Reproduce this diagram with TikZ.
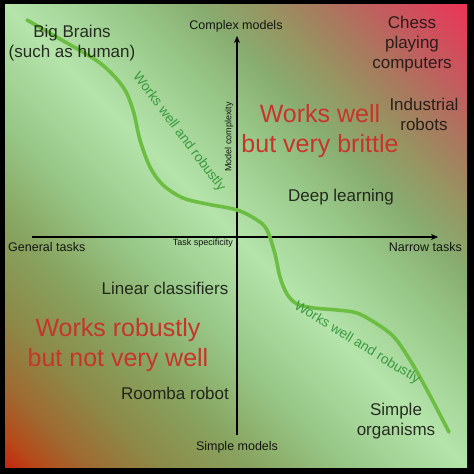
\documentclass[tikz,border=0pt]{standalone}
\usepackage{fontspec}
\setmainfont{Liberation Sans}
\usetikzlibrary{arrows.meta}
\definecolor{bA}{HTML}{C42810}
\definecolor{bB}{HTML}{B84818}
\definecolor{bC}{HTML}{A06830}
\definecolor{bD}{HTML}{8C8A48}
\definecolor{bE}{HTML}{88A460}
\definecolor{bF}{HTML}{98C888}
\definecolor{cLight}{HTML}{B4E4AA}
\definecolor{tF}{HTML}{98C888}
\definecolor{tE}{HTML}{88AC70}
\definecolor{tD}{HTML}{969662}
\definecolor{tC}{HTML}{A87A5E}
\definecolor{tB}{HTML}{C45A5E}
\definecolor{tA}{HTML}{EC3458}
\definecolor{curvec}{HTML}{6CBE42}
\definecolor{curvetext}{HTML}{3A9A40}
\definecolor{redtext}{HTML}{C8342A}
\definecolor{labeltext}{HTML}{141410}
\pgfdeclareverticalshading{bgshade}{100bp}{color(0bp)=(bA); color(14.6bp)=(bA); color(16.8bp)=(bB); color(20.5bp)=(bC); color(26.5bp)=(bD); color(33.5bp)=(bE); color(41.2bp)=(bF); color(50bp)=(cLight); color(58.8bp)=(tF); color(64.8bp)=(tE); color(69.4bp)=(tD); color(74bp)=(tC); color(79bp)=(tB); color(85.4bp)=(tA); color(100bp)=(tA)}
\tikzset{
  lbl/.style={font=\fontsize{17}{20}\selectfont, text=labeltext, text opacity=0.88, align=center, inner sep=0pt},
  bigred/.style={font=\fontsize{25}{30}\selectfont, text=redtext, align=center, inner sep=0pt},
  axlbl/.style={font=\fontsize{12.5}{15}\selectfont, text=labeltext, inner sep=0pt},
  tinylbl/.style={font=\fontsize{9}{11}\selectfont, text=labeltext, inner sep=0pt},
  curvelbl/.style={font=\fontsize{13.7}{16}\selectfont, text=curvetext, inner sep=0pt},
  axis/.style={draw=black, line width=1.2pt, -{Stealth[length=7pt,width=6pt]}},
  curve/.style={draw=curvec, line width=3.6pt, line cap=round}
}
\begin{document}
\begin{tikzpicture}[x=1pt,y=-1pt]
\useasboundingbox (0,0) rectangle (474,474);
\fill[black] (0,0) rectangle (474,474);
\shade[shading=bgshade, shading angle=-45] (5,4.5) rectangle (467,467);
% axes
\coordinate (vb) at (237,435);
\coordinate (vt) at (237,36);
\coordinate (hl) at (32,237);
\coordinate (hr) at (438,237);
\draw[axis] (vb) -- (vt);
\draw[axis] (hl) -- (hr);
% curve
\draw[curve] plot[smooth, tension=0.55] coordinates {(27,20) (60,39) (100,63) (123,87) (133,110) (140,140) (150,167) (163,185) (183,198) (207,204) (237,210) (257,220) (267,230) (275,254) (280,277) (287,294) (297,304) (314,308) (337,310) (357,313) (377,324) (394,337) (410,360) (427,390) (449,432)};
% axis labels
\node[axlbl] (cm) at (236,26) {Complex models};
\node[axlbl] (sm) at (237,447) {Simple models};
\node[axlbl, anchor=west] (gt) at (8,247) {General tasks};
\node[axlbl, anchor=east] (nt) at (462,247) {Narrow tasks};
\node[tinylbl, anchor=east] (ts) at (233,243) {Task specificity};
\node[tinylbl, rotate=90] (mc) at (229,137) {Model complexity};
% curve labels
\node[curvelbl, rotate=-53] (w1) at (179,132) {Works well and robustly};
\node[curvelbl, rotate=-31.5] (w2) at (357,343) {Works well and robustly};
% labels
\node[lbl] (bb) at (72,43) {Big Brains\\(such as human)};
\node[lbl] (ch) at (412,44) {Chess\\playing\\computers};
\node[lbl] (ir) at (424,114) {Industrial\\robots};
\node[bigred] (wb) at (320,131) {Works well\\but very brittle};
\node[lbl] (dl) at (341,197) {Deep learning};
\node[lbl] (lc) at (165,288) {Linear classifiers};
\node[bigred] (wr) at (118,345) {Works robustly\\but not very well};
\node[lbl] (rr) at (175,393) {Roomba robot};
\node[lbl] (so) at (396,421) {Simple\\organisms};
\end{tikzpicture}
\end{document}
